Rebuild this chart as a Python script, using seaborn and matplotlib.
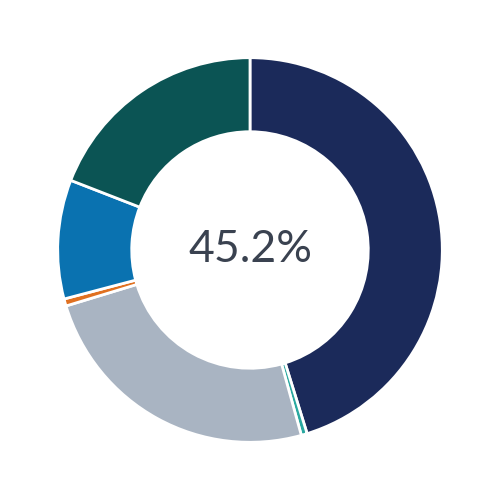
import matplotlib
matplotlib.use("Agg")
import matplotlib.pyplot as plt
import seaborn as sns

sns.set_theme(style="white")
plt.rcParams["font.family"] = ["Lato", "DejaVu Sans"]

segments = ["Navy", "Teal", "Gray", "Orange", "Blue", "Green"]
shares = [45.2, 0.5, 24.6, 0.6, 10.0, 19.1]
colours = ["#1b2a5a", "#2aa8a0", "#a9b4c2", "#e07020", "#0a72b0", "#0b5454"]
centre_label = "45.2%"

fig = plt.figure(figsize=(5, 5), dpi=100)
ax = fig.add_axes([0, 0, 1, 1])
ax.pie(
    shares,
    colors=colours,
    startangle=90,
    counterclock=False,
    radius=1.0,
    wedgeprops=dict(width=0.385, edgecolor="white", linewidth=2),
)
ax.text(0, 0, centre_label, ha="center", va="center", fontsize=32, color="#3a4250")
ax.set_xlim(-1.3, 1.3)
ax.set_ylim(-1.3, 1.3)
ax.set_aspect("equal")
ax.axis("off")
fig.savefig("out.png", dpi=100, facecolor="white")
